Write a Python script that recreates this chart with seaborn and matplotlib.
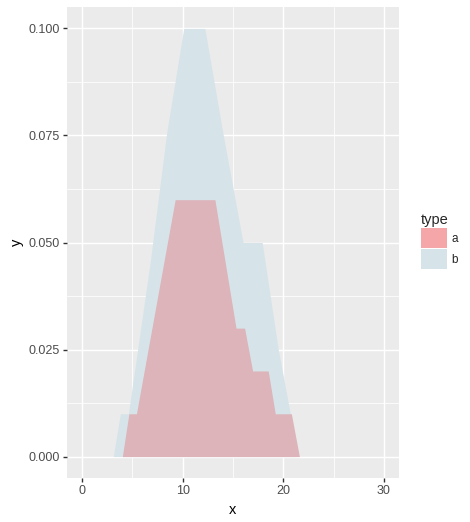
import matplotlib.pyplot as plt
import pandas as pd
import seaborn as sns
from matplotlib.patches import Patch

# outline points, one pair of lists per type
a_x = [4.0, 4.65, 5.4, 9.25, 13.2, 15.3, 16.15, 16.95, 18.5, 19.2, 20.8, 21.6]
a_y = [0.0, 0.01, 0.01, 0.06, 0.06, 0.03, 0.03, 0.02, 0.02, 0.01, 0.01, 0.0]

b_x = [3.1, 3.8, 4.6, 6.8, 8.4, 10.1, 12.2, 14.0, 16.0, 17.9, 19.5, 20.7, 21.3]
b_y = [0.0, 0.01, 0.01, 0.046, 0.0755, 0.1, 0.1, 0.0755, 0.05, 0.05, 0.025, 0.01, 0.0]

types = ["a", "b"]
x_ticks = [0, 10, 20, 30]
y_ticks = [0.0, 0.025, 0.05, 0.075, 0.1]

df = pd.concat([
    pd.DataFrame({"x": a_x, "y": a_y, "type": "a"}),
    pd.DataFrame({"x": b_x, "y": b_y, "type": "b"}),
])

fill_panel = {"a": "#DCB4BA", "b": "#D6E4E9"}
fill_key = {"a": "#F5A6A8", "b": "#D6E4E9"}

sns.set_theme(style="darkgrid", rc={
    "axes.facecolor": "#EBEBEB",
    "grid.color": "white",
    "xtick.bottom": True,
    "ytick.left": True,
})
plt.rcParams["font.family"] = ["Liberation Sans", "DejaVu Sans"]

fig = plt.figure(figsize=(4.7, 5.22), dpi=100)
ax = fig.add_axes([67 / 470, 44 / 522, 332 / 470, 471 / 522])

# outline only via seaborn, fills drawn per type (b below, a on top)
sns.lineplot(data=df, x="x", y="y", hue="type", palette=fill_panel,
             linewidth=0, sort=False, estimator=None, legend=False, ax=ax)
for t in ["b", "a"]:
    d = df[df["type"] == t]
    ax.fill_between(d["x"], d["y"], 0, color=fill_panel[t], linewidth=0, zorder=2)

ax.set_xlim(-1.5, 31.5)
ax.set_ylim(-0.005, 0.105)
ax.set_xticks(x_ticks)
ax.set_xticklabels([str(v) for v in x_ticks])
ax.set_yticks(y_ticks)
ax.set_yticklabels([f"{v:.3f}" for v in y_ticks])
ax.set_xticks([5, 15, 25], minor=True)
ax.set_yticks([0.0125, 0.0375, 0.0625, 0.0875], minor=True)
ax.grid(which="major", color="white", linewidth=1.05)
ax.grid(which="minor", color="white", linewidth=0.55)
ax.set_axisbelow(True)
for s in ax.spines.values():
    s.set_visible(False)

ax.tick_params(axis="both", which="major", length=2.7, width=1.0, color="#333333",
               labelcolor="#4D4D4D", labelsize=9, pad=2.5)
ax.tick_params(axis="both", which="minor", length=0)

ax.set_xlabel("x", fontsize=10.5, color="black")
ax.set_ylabel("y", fontsize=10.5, color="black")
ax.xaxis.set_label_coords(0.5, -0.053)
ax.yaxis.set_label_coords(-0.13, 0.5)

handles = [Patch(facecolor=fill_key[t], edgecolor="none", label=t) for t in types]
leg = ax.legend(handles=handles, title="type", loc="upper left",
                bbox_to_anchor=(421 / 470, 1 - 213 / 522),
                bbox_transform=fig.transFigure, frameon=False,
                fontsize=8.5, title_fontsize=10.5, handlelength=2.2,
                handleheight=2.2, labelspacing=0.1, handletextpad=0.4,
                borderpad=0, borderaxespad=0, alignment="left")

fig.savefig("out.png", dpi=100)
